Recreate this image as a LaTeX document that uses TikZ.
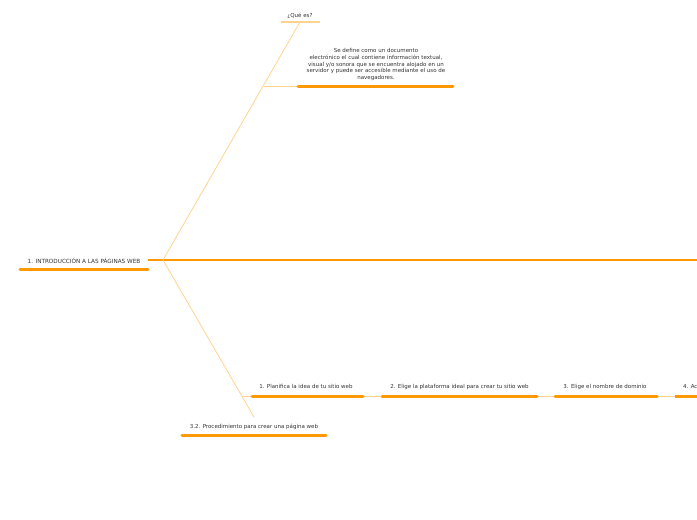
\documentclass[tikz,border=0pt]{standalone}
\usepackage{fontspec}
\setmainfont{DejaVu Sans}
\definecolor{org}{HTML}{FF9900}
\definecolor{lorg}{HTML}{FFD38F}
\definecolor{txt}{HTML}{333333}
\begin{document}
\begin{tikzpicture}[x=1pt,y=-1pt,
  lbl/.style={font=\fontsize{5.5}{6.8}\selectfont,text=txt,inner sep=0pt,align=center},
  uline/.style={draw=org,line width=3pt,line cap=round},
  thin/.style={draw=lorg,line width=0.8pt},
  lline/.style={draw=lorg,line width=1.3pt}]
\useasboundingbox (0,0) rectangle (697,520);
% root
\node[lbl,font=\fontsize{5.7}{6.7}\selectfont] (root) at (84,260.5) {1. INTRODUCCIÓN A LAS PÁGINAS WEB};
\coordinate (rootL) at (20,269);
\coordinate (rootR) at (148,269);
\draw[uline] (rootL) -- (rootR);
\coordinate (rootE) at (148,260);
\coordinate (rootF) at (697,260);
\draw[draw=org,line width=1.8pt] (rootE) -- (rootF);
\coordinate (hub) at (163,260);
% que es
\node[lbl] (que) at (300,15.5) {¿Qué es?};
\coordinate (queL) at (281,22);
\coordinate (queR) at (320,22);
\draw[lline] (queL) -- (queR);
\coordinate (queM) at (300,22);
\draw[thin] (hub) -- (queM);
% definition
\node[lbl] (def) at (376,64.5) {Se define como un documento\\electrónico el cual contiene información textual,\\visual y/o sonora que se encuentra alojado en un\\servidor y puede ser accesible mediante el uso de\\navegadores.};
\coordinate (branch) at (264,86);
\coordinate (defL) at (298,86);
\coordinate (defR) at (453,86);
\draw[thin] (branch) -- (defL);
\draw[uline] (defL) -- (defR);
% procedimiento
\node[lbl] (proc) at (254,426.5) {3.2. Procedimiento para crear una página web};
\coordinate (procT) at (254,417);
\coordinate (procL) at (182,435);
\coordinate (procR) at (326,435);
\draw[uline] (procL) -- (procR);
\draw[thin] (hub) -- (procT);
\coordinate (pb) at (242,396);
% steps
\node[lbl] (s1) at (306,386.5) {1. Planifica la idea de tu sitio web};
\coordinate (s1L) at (252,396);
\coordinate (s1R) at (363,396);
\node[lbl] (s2) at (459.5,386.5) {2. Elige la plataforma ideal para crear tu sitio web};
\coordinate (s2L) at (382,396);
\coordinate (s2R) at (537,396);
\node[lbl] (s3) at (605,386.5) {3. Elige el nombre de dominio};
\coordinate (s3L) at (555,396);
\coordinate (s3R) at (657,396);
\node[lbl,anchor=west] (s4) at (683,386.5) {4. Ac};
\coordinate (s4L) at (675,396);
\coordinate (s4R) at (697,396);
\draw[thin] (pb) -- (s1L);
\draw[thin] (s1R) -- (s2L);
\draw[thin] (s2R) -- (s3L);
\draw[thin] (s3R) -- (s4L);
\draw[uline] (s1L) -- (s1R);
\draw[uline] (s2L) -- (s2R);
\draw[uline] (s3L) -- (s3R);
\draw[draw=org,line width=3pt] (s4L) -- (s4R);
\end{tikzpicture}
\end{document}
